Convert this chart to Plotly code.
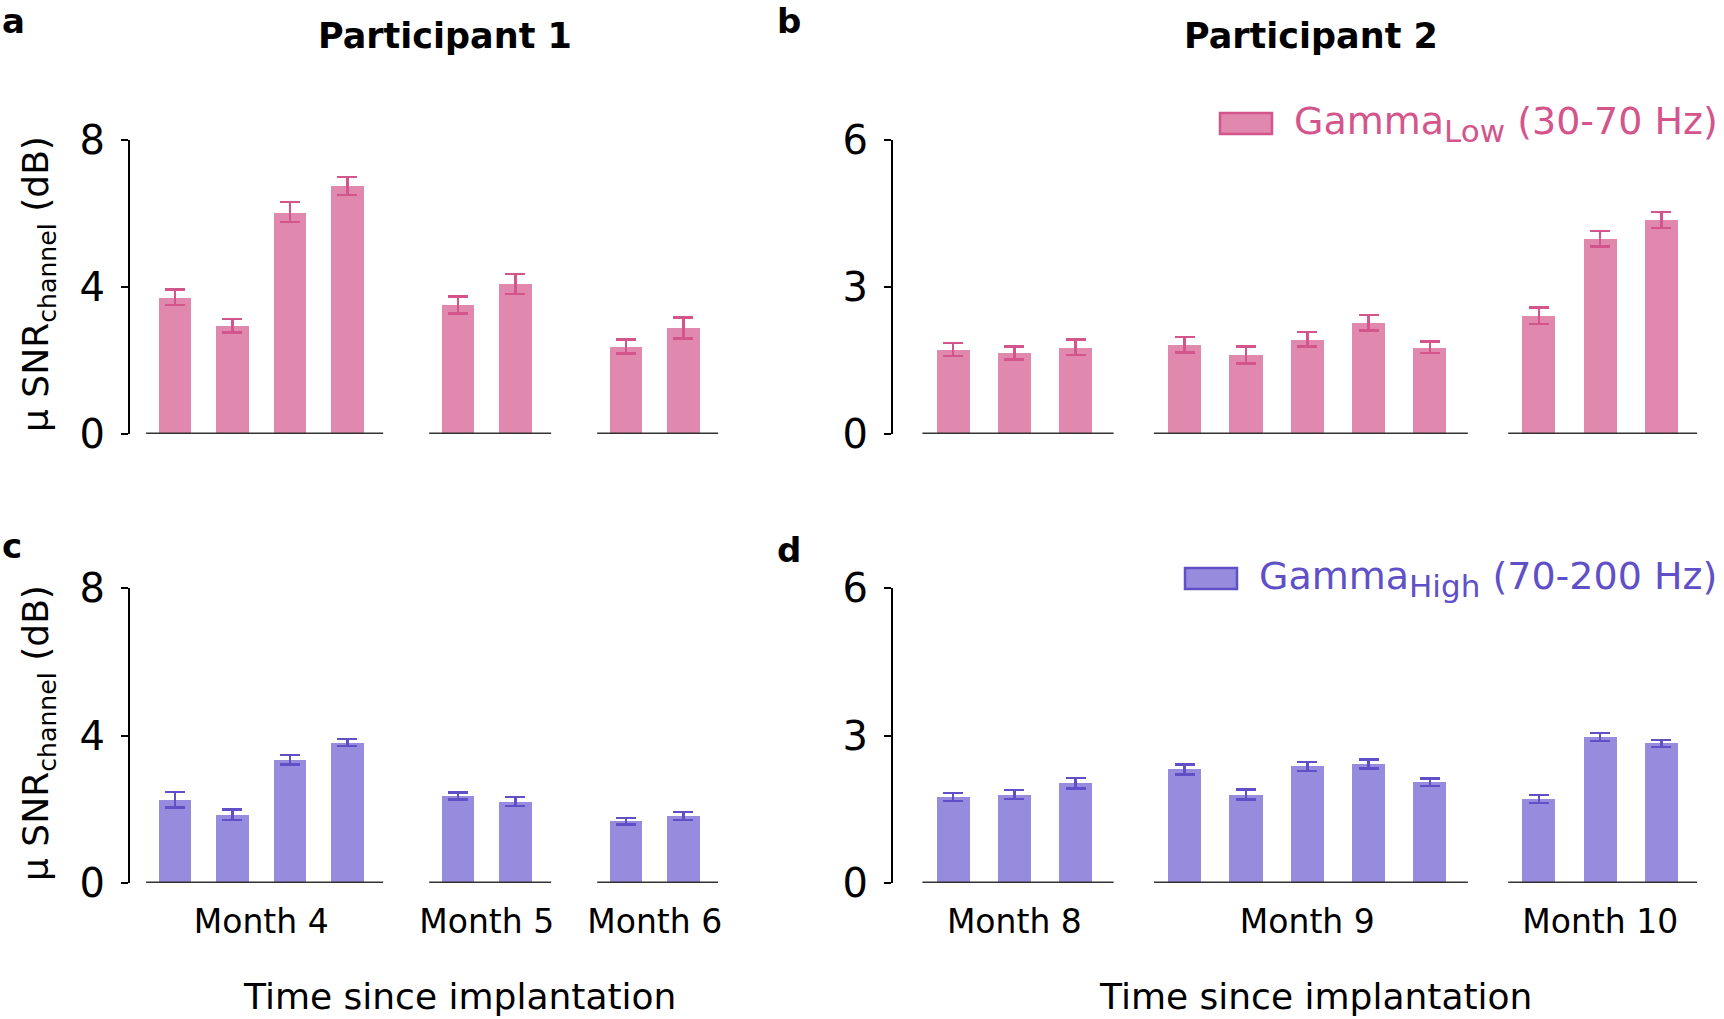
import plotly.graph_objects as go

# ---------------- data ----------------
p1_months = ["Month 4", "Month 5", "Month 6"]
p1_counts = [4, 2, 2]
p2_months = ["Month 8", "Month 9", "Month 10"]
p2_counts = [3, 5, 3]

p1_low = [3.71, 2.94, 6.03, 6.74, 3.51, 4.08, 2.38, 2.88]
p1_low_err = [0.21, 0.18, 0.27, 0.25, 0.23, 0.27, 0.19, 0.28]
p1_high = [2.26, 1.85, 3.34, 3.81, 2.36, 2.21, 1.67, 1.82]
p1_high_err = [0.21, 0.14, 0.13, 0.10, 0.09, 0.12, 0.09, 0.11]

p2_low = [1.72, 1.65, 1.77, 1.82, 1.61, 1.93, 2.27, 1.77, 2.41, 3.98, 4.36]
p2_low_err = [0.13, 0.13, 0.16, 0.16, 0.17, 0.15, 0.16, 0.12, 0.17, 0.16, 0.16]
p2_high = [1.75, 1.80, 2.03, 2.31, 1.80, 2.37, 2.42, 2.05, 1.71, 2.97, 2.84]
p2_high_err = [0.08, 0.09, 0.11, 0.10, 0.10, 0.09, 0.09, 0.08, 0.08, 0.08, 0.07]

p1_yticks = [0, 4, 8]
p2_yticks = [0, 3, 6]

# ---------------- style ----------------
W, H = 1724, 1019
FONT = "DejaVu Sans"
PINK = "rgb(212,85,140)"
PINK_BAR = "rgba(212,85,140,0.7)"
PURP = "rgb(96,80,200)"
PURP_BAR = "rgba(106,90,205,0.7)"
LINE = "#333333"


def positions(counts, gap):
    pos, groups = [], []
    k = 0
    for g, c in enumerate(counts):
        grp = []
        for i in range(c):
            p = k + g * gap
            pos.append(p)
            grp.append(p)
            k += 1
        groups.append(grp)
    return pos, groups


x1, g1 = positions(p1_counts, 0.92)
x2, g2 = positions(p2_counts, 0.78)

fig = go.Figure()


def add_bars(x, y, err, xa, ya, barcol, errcol, width):
    fig.add_trace(go.Bar(
        x=x, y=y, width=width, xaxis=xa, yaxis=ya,
        marker=dict(color=barcol, line=dict(width=0)),
        error_y=dict(type="data", array=err, visible=True, color=errcol,
                     thickness=2.5, width=10),
        showlegend=False, hoverinfo="y"))


add_bars(x1, p1_low, p1_low_err, "x", "y", PINK_BAR, PINK, 0.56)
add_bars(x2, p2_low, p2_low_err, "x2", "y2", PINK_BAR, PINK, 0.54)
add_bars(x1, p1_high, p1_high_err, "x3", "y3", PURP_BAR, PURP, 0.56)
add_bars(x2, p2_high, p2_high_err, "x4", "y4", PURP_BAR, PURP, 0.54)

# baseline segments per month group
for groups, xa, ya in [(g1, "x", "y"), (g2, "x2", "y2"), (g1, "x3", "y3"), (g2, "x4", "y4")]:
    for grp in groups:
        fig.add_shape(type="line", xref=xa, yref=ya, x0=grp[0] - 0.5, x1=grp[-1] + 0.62,
                      y0=0, y1=0, line=dict(color=LINE, width=3))


def px_x(p):
    return p / W


def px_y(p):
    return 1 - p / H


dom_x1 = [px_x(130), px_x(718)]
dom_x2 = [px_x(893), px_x(1697)]
dom_ytop = [px_y(434), px_y(139.6)]
dom_ybot = [px_y(883), px_y(588)]

range_x1 = [x1[0] - 0.78, x1[-1] + 0.60]
range_x2 = [x2[0] - 0.98, x2[-1] + 0.58]

ytickfont = dict(family=FONT, size=40, color="black")
xtickfont = dict(family=FONT, size=33, color="black")


def yax(dom, rng, ticks, anchor):
    return dict(domain=dom, range=rng, tickvals=ticks, showline=True, linecolor="black",
                linewidth=2, ticks="outside", ticklen=7, tickwidth=2, tickcolor="black",
                showgrid=False, zeroline=False, tickfont=ytickfont, fixedrange=True,
                ticklabelstandoff=8, automargin=False, anchor=anchor)


def xax(dom, rng, anchor, groups=None, labels=None):
    d = dict(domain=dom, range=rng, showline=False, showgrid=False, zeroline=False,
             ticks="", anchor=anchor, fixedrange=True, automargin=False)
    if groups is None:
        d["showticklabels"] = False
    else:
        d["tickvals"] = [(g[0] + g[-1]) / 2 for g in groups]
        d["ticktext"] = labels
        d["tickfont"] = xtickfont
        d["ticklabelstandoff"] = 16
    return d


fig.update_layout(
    width=W, height=H, margin=dict(l=0, r=0, t=0, b=0, autoexpand=False),
    paper_bgcolor="white", plot_bgcolor="white", showlegend=False, bargap=0,
    font=dict(family=FONT, color="black"),
    xaxis=xax(dom_x1, range_x1, "y"),
    yaxis=yax(dom_ytop, [0, 8], p1_yticks, "x"),
    xaxis2=xax(dom_x2, range_x2, "y2"),
    yaxis2=yax(dom_ytop, [0, 6], p2_yticks, "x2"),
    xaxis3=xax(dom_x1, range_x1, "y3", g1, p1_months),
    yaxis3=yax(dom_ybot, [0, 8], p1_yticks, "x3"),
    xaxis4=xax(dom_x2, range_x2, "y4", g2, p2_months),
    yaxis4=yax(dom_ybot, [0, 6], p2_yticks, "x4"),
)

ann = []
# panel letters
for txt, x, y in [("a", 0, 21), ("b", 775, 21), ("c", 0, 546), ("d", 775, 550)]:
    ann.append(dict(text=f"<b>{txt}</b>", x=px_x(x), y=px_y(y), xref="paper", yref="paper",
                    xanchor="left", yanchor="middle", showarrow=False,
                    font=dict(family=FONT, size=34, color="black")))
# participant titles
for txt, x in [("Participant 1", 445), ("Participant 2", 1311)]:
    ann.append(dict(text=f"<b>{txt}</b>", x=px_x(x), y=px_y(36), xref="paper", yref="paper",
                    xanchor="center", yanchor="middle", showarrow=False,
                    font=dict(family=FONT, size=35, color="black")))
# y titles
for yc in [284, 733]:
    ann.append(dict(text="μ SNR<sub>channel</sub> (dB)", x=px_x(38), y=px_y(yc),
                    xref="paper", yref="paper", xanchor="center", yanchor="middle",
                    textangle=-90, showarrow=False,
                    font=dict(family=FONT, size=36, color="black")))
# x titles
for xc in [460, 1315]:
    ann.append(dict(text="Time since implantation", x=px_x(xc), y=px_y(996),
                    xref="paper", yref="paper", xanchor="center", yanchor="middle",
                    showarrow=False, font=dict(family=FONT, size=36, color="black")))
# legend labels
ann.append(dict(text="Gamma<sub><span style='font-size:31px'>Low</span></sub> (30-70 Hz)",
                x=px_x(1292), y=px_y(124),
                xref="paper", yref="paper", xanchor="left", yanchor="middle",
                showarrow=False, font=dict(family=FONT, size=38, color=PINK)))
ann.append(dict(text="Gamma<sub><span style='font-size:31px'>High</span></sub> (70-200 Hz)",
                x=px_x(1257), y=px_y(579),
                xref="paper", yref="paper", xanchor="left", yanchor="middle",
                showarrow=False, font=dict(family=FONT, size=38, color=PURP)))
fig.update_layout(annotations=ann)

# legend swatches
fig.add_shape(type="rect", xref="paper", yref="paper", x0=px_x(1220), x1=px_x(1272),
              y0=px_y(134), y1=px_y(113), fillcolor=PINK_BAR, line=dict(color=PINK, width=2.5))
fig.add_shape(type="rect", xref="paper", yref="paper", x0=px_x(1185), x1=px_x(1237),
              y0=px_y(589), y1=px_y(568), fillcolor=PURP_BAR, line=dict(color=PURP, width=2.5))

fig.write_html("out.html", config={"displayModeBar": False},
               post_script="document.body.style.margin='0px';document.body.style.overflow='hidden';")
